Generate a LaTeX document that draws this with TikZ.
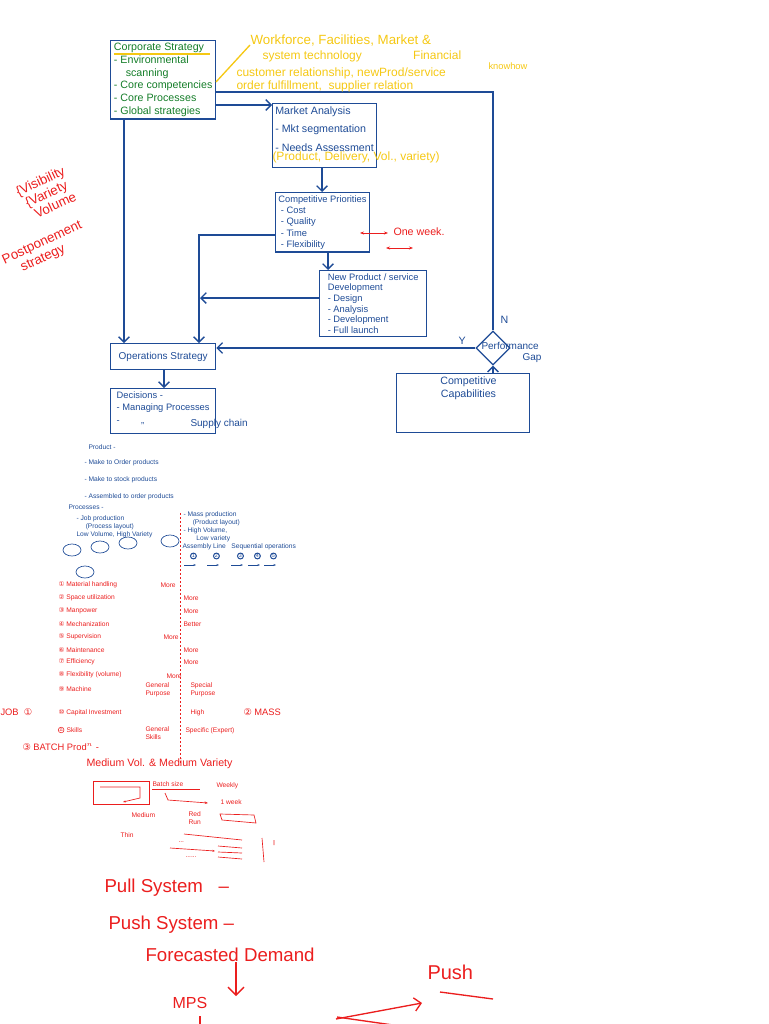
\documentclass[tikz,border=0pt]{standalone}
\usepackage{fontspec}
\setmainfont{Liberation Sans}
\newfontfamily\circfont{DejaVu Sans}
\usetikzlibrary{shapes.geometric,arrows.meta}
\definecolor{inkblue}{RGB}{30,75,150}
\definecolor{inkred}{RGB}{235,30,30}
\definecolor{inkyellow}{RGB}{245,200,20}
\definecolor{inkgreen}{RGB}{20,125,40}
\newcommand{\cnum}[1]{{\circfont #1}}
\tikzset{every picture/.style={line width=0.75pt}}
\tikzset{
  box/.style={draw=inkblue,line width=1pt,rectangle,align=left,anchor=north west,inner sep=2pt,font=\small,text=inkblue},
  flow/.style={draw=inkblue,line width=1pt,-{Straight Barb[length=4pt]}},
  note/.style={anchor=west,inner sep=0pt,font=\fontsize{5}{6}\selectfont},
  rednote/.style={note,text=inkred},
  bluenote/.style={note,text=inkblue},
  yellownote/.style={anchor=west,inner sep=0pt,text=inkyellow,font=\fontsize{9}{10}\selectfont}
}
\begin{document}
\begin{tikzpicture}[x=0.75pt,y=0.75pt,yscale=-1,xscale=1]
    \useasboundingbox (0,0) rectangle (768,1024);

    % main chart boxes
    \node[box,minimum width=105*0.75pt,minimum height=78*0.75pt,text=inkgreen,font=\fontsize{8}{9.5}\selectfont] (corp) at (110,40) {Corporate Strategy\\- Environmental\\\ \ \ \ scanning\\- Core competencies\\- Core Processes\\- Global strategies};
    \node[box,minimum width=94*0.75pt,minimum height=60*0.75pt,font=\fontsize{8}{14}\selectfont] (mkt) at (272,103) {Market Analysis\\- Mkt segmentation\\- Needs Assessment\\[-4pt]};
    \node[box,minimum width=92*0.75pt,minimum height=59*0.75pt,font=\fontsize{7}{8.5}\selectfont] (prio) at (275,192) {Competitive Priorities\\\ - Cost\\\ - Quality\\\ - Time\\\ - Flexibility};
    \node[box,minimum width=107*0.75pt,minimum height=58*0.75pt,font=\fontsize{7}{8}\selectfont] (npd) at (319,270) {New Product / service\\Development\\- Design\\- Analysis\\- Development\\- Full launch};
    \node[box,minimum width=105*0.75pt,minimum height=26*0.75pt,font=\fontsize{7.5}{9}\selectfont] (ops) at (110,343) {Operations Strategy};
    \node[box,minimum width=105*0.75pt,minimum height=45*0.75pt,font=\fontsize{7}{9.5}\selectfont] (dec) at (110,388) {Decisions -\\- Managing Processes\\- \qquad ,,\\[-4pt]};
    \node[bluenote,font=\fontsize{7.5}{9}\selectfont] (sc) at (190,424) {Supply chain};
    \node[box,minimum width=133*0.75pt,minimum height=59*0.75pt,align=center,font=\fontsize{8}{10}\selectfont] (cap) at (396,373) {\quad Competitive\\\quad Capabilities\\[14pt]};
    \node[diamond,draw=inkblue,line width=1pt,minimum size=34*0.75pt,inner sep=0pt] (gap) at (493,348) {};
    \node[bluenote,font=\fontsize{7.5}{9}\selectfont] (gaplbl) at (481,346) {Performance};
    \node[bluenote,font=\fontsize{7.5}{9}\selectfont] (gaplbl2) at (522,358) {Gap};
    \node[bluenote,font=\fontsize{8}{9}\selectfont] (ylbl) at (458,341) {Y};
    \node[bluenote,font=\fontsize{8}{9}\selectfont] (nlbl) at (500,320) {N};

    % connectors
    \draw[flow] (corp.east |- 0,105) -- (mkt.west |- 0,105);
    \draw[draw=inkblue,line width=1pt] (corp.east |- 0,92) -| (gap.north);
    \draw[flow] (corp.south -| 124,0) -- (ops.north -| 124,0);
    \draw[flow] (mkt.south -| 322,0) -- (prio.north -| 322,0);
    \draw[flow] (prio.west |- 0,235) -| (ops.north -| 199,0);
    \draw[flow] (prio.south -| 328,0) -- (npd.north -| 328,0);
    \draw[flow] (npd.west |- 0,298) -- (200,298);
    \draw[flow] (gap.west) -- (ops.east |- gap.west);
    \draw[flow] (cap.north -| gap.south) -- (gap.south);
    \draw[flow] (ops.south -| 164,0) -- (dec.north -| 164,0);

    % yellow annotations
    \node[yellownote,font=\fontsize{10}{11}\selectfont] (y1) at (250,41) {Workforce, Facilities, Market \&};
    \node[yellownote] (y2) at (262,56) {system technology \qquad\qquad Financial};
    \node[yellownote,font=\fontsize{7}{8}\selectfont] (y3) at (488,66) {knowhow};
    \node[yellownote] (y4) at (236,73) {customer relationship, newProd/service};
    \node[yellownote] (y5) at (236,86) {order fulfillment, \ supplier relation};
    \node[yellownote] (y6) at (272,157) {(Product, Delivery, Vol., variety)};
    \draw[inkyellow,line width=1pt] (216,82) -- (250,45);
    \draw[inkyellow,line width=1pt] (114,54) -- (210,54);

    % red side notes
    \draw[inkred,{Stealth[length=3pt]}-{Stealth[length=3pt]}] (360,233) -- (388,233);
    \node[rednote,font=\fontsize{8}{9}\selectfont] (week) at (393,232) {One week.};
    \draw[inkred,{Stealth[length=3pt]}-{Stealth[length=3pt]}] (386,248) -- (413,248);
    \node[rednote,font=\fontsize{10}{10.5}\selectfont,rotate=25,align=left] (vvv) at (22,205) {\{Visibility\\\ \{Variety\\\ \ Volume};
    \node[rednote,font=\fontsize{10}{11}\selectfont,rotate=25,align=left] (post) at (6,268) {Postponement\\\quad strategy};

    % product / process notes
    \node[bluenote] (p0) at (88,447) {Product -};
    \node[bluenote] (p1) at (84,463) {- Make to Order products};
    \node[bluenote] (p2) at (84,480) {- Make to stock products};
    \node[bluenote] (p3) at (84,497) {- Assembled to order products};
    \node[bluenote] (p4) at (68,507) {Processes -};
    \node[bluenote,align=left] (job) at (76,527) {- Job production\\\ \ \ \ \ (Process layout)\\Low Volume, High Variety};
    \node[bluenote,align=left] (mass) at (183,527) {- Mass production\\\ \ \ \ \ (Product layout)\\- High Volume,\\\ \ \ \ \ \ \ Low variety};
    \draw[inkred,dash pattern=on 1.5pt off 1.5pt] (180,513) -- (180,765);
    \foreach \xx/\yy in {72/550,100/547,128/543,170/541,85/572}
      \draw[inkblue,line width=0.5pt] (\xx,\yy) ellipse (9 and 6);
    \node[bluenote] (asm) at (182,547) {Assembly Line \ \ Sequential operations};
    \foreach \xx [count=\i] in {190,213,237,254,270}{
      \node[bluenote,font=\fontsize{4}{4}\selectfont,draw=inkblue,circle,inner sep=0.3pt] (c\i) at (\xx,556) {\i};
      \draw[inkblue,line width=0.5pt,-{Stealth[length=2pt]}] (\xx-6,565) -- (\xx+6,565);
    }
    \foreach \yy/\txt in {585/{\cnum{①} Material handling},598/{\cnum{②} Space utilization},611/{\cnum{③} Manpower},624/{\cnum{④} Mechanization},637/{\cnum{⑤} Supervision},650/{\cnum{⑥} Maintenance},662/{\cnum{⑦} Efficiency},675/{\cnum{⑧} Flexibility (volume)},689/{\cnum{⑨} Machine},713/{\cnum{⑩} Capital Investment}}
      \node[rednote] at (58,\yy) {\txt};
    \node[rednote,draw=inkred,circle,inner sep=0.2pt,line width=0.4pt,font=\fontsize{3}{3}\selectfont] (c11) at (58,730) {11};
    \node[rednote] (skills) at (c11.east) {\ Skills};
    \foreach \xx/\yy/\txt in {160/585/More,183/598/More,183/611/More,183/624/Better,163/637/More,183/650/More,183/662/More,166/676/More,190/713/High}
      \node[rednote] at (\xx,\yy) {\txt};
    \node[rednote,align=left] (gp) at (145,690) {General\\Purpose};
    \node[rednote,align=left] (sp) at (190,690) {Special\\Purpose};
    \node[rednote,align=left] (gs) at (145,733) {General\\Skills};
    \node[rednote] (ss) at (185,731) {Specific (Expert)};
    \node[rednote,font=\fontsize{7}{8}\selectfont] (jobl) at (0,712) {JOB \ \cnum{①}};
    \node[rednote,font=\fontsize{7}{8}\selectfont] (massl) at (243,712) {\cnum{②} MASS};
    \node[rednote,font=\fontsize{7}{8}\selectfont] (batch) at (22,747) {\cnum{③} BATCH Prod$^n$ -};
    \node[rednote,font=\fontsize{8}{9}\selectfont] (medium) at (86,764) {Medium Vol. \& Medium Variety};

    % batch sketch
    \draw[inkred,line width=0.5pt] (93,781) rectangle (149,804);
    \draw[inkred,line width=0.5pt,-{Stealth[length=2pt]}] (100,787) -- (140,787) -- (140,798) -- (123,802);
    \node[rednote] (bsz) at (152,784) {Batch size};
    \draw[inkred,line width=0.5pt] (152,789) -- (200,789);
    \draw[inkred,line width=0.5pt,-{Stealth[length=2.5pt]}] (165,793) -- (168,800) -- (208,803);
    \node[rednote] (wk) at (216,786) {Weekly};
    \node[rednote] (wk2) at (220,802) {1 week};
    \node[rednote] (med2) at (131,815) {Medium};
    \node[rednote,align=left] (rr) at (188,818) {Red\\Run};
    \draw[inkred,line width=0.5pt] (220,814) -- (254,815) -- (256,823) -- (222,820) -- cycle;
    \node[rednote] (thin) at (120,835) {Thin};
    \node[rednote] (vv) at (178,842) {...};
    \draw[inkred,line width=0.5pt] (184,834) -- (242,840);
    \draw[inkred,line width=0.5pt,-{Stealth[length=2pt]}] (170,848) -- (215,851);
    \draw[inkred,line width=0.5pt] (218,846) -- (242,848) (218,852) -- (242,853) (218,857) -- (242,859);
    \node[rednote] (wl) at (185,857) {......};
    \draw[inkred,line width=0.5pt] (262,838) -- (264,862) (274,840) -- (274,845);

    % push / pull
    \node[rednote,font=\fontsize{14}{15}\selectfont] (pull) at (104,888) {Pull System \ \ –};
    \node[rednote,font=\fontsize{14}{15}\selectfont] (push) at (108,925) {Push System –};
    \node[rednote,font=\fontsize{14}{15}\selectfont] (fd) at (145,955) {Forecasted Demand};
    \node[rednote,font=\fontsize{12}{13}\selectfont] (mps) at (172,1003) {MPS};
    \node[rednote,font=\fontsize{15}{16}\selectfont] (pushr) at (427,972) {Push};
    \draw[inkred,line width=1pt,-{Straight Barb[length=6pt]}] (fd.south -| 236,0) -- (236,996);
    \draw[inkred,line width=1pt] (440,992) -- (493,999);
    \draw[inkred,line width=1pt,-{Straight Barb[length=5pt]}] (336,1019) -- (422,1003);
    \draw[inkred,line width=1pt] (337,1017) -- (400,1026);
    \draw[inkred,line width=1pt] (200,1016) -- (200,1024);
\end{tikzpicture}
\end{document}
